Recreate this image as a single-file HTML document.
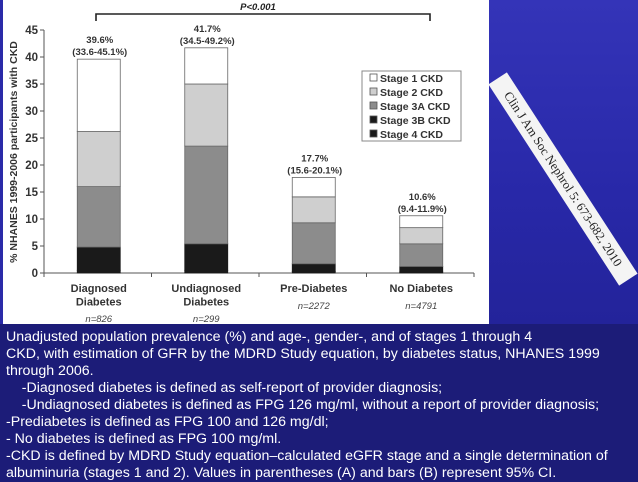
<!DOCTYPE html>
<html><head><meta charset="utf-8"><style>
html,body{margin:0;padding:0}
body{width:638px;height:478px;overflow:hidden;position:relative;background:#1c1c78;font-family:"Liberation Sans",Arial,sans-serif}
#right{position:absolute;left:489px;top:0;width:149px;height:324px;background:linear-gradient(#3434b8,#2828a8 60%,#23239a)}
#left{position:absolute;left:0;top:0;width:3px;height:324px;background:#2a2aa8}
#panel{position:absolute;left:3px;top:0;width:486px;height:324px;background:#fff}
#cap{position:absolute;left:6px;top:329px;color:#fff;font-size:14.2px;line-height:17px;white-space:pre}
#cite{position:absolute;left:443px;top:168px;width:240px;height:22px;background:#f4f4f4;transform:rotate(57deg);font-family:"Liberation Serif",serif;font-size:12.5px;line-height:22px;text-align:center;color:#222;white-space:nowrap}
</style></head><body>
<div id="left"></div>
<div id="panel"></div>
<div id="right"></div>
<div id="cite">Clin J Am Soc Nephrol 5: 673-682, 2010</div>
<svg id="chart" width="489" height="324" style="position:absolute;left:0;top:0" font-family="Liberation Sans, Arial, sans-serif"></svg>
<div id="cap">Unadjusted population prevalence (%) and age-, gender-, and of stages 1 through 4
CKD, with estimation of GFR by the MDRD Study equation, by diabetes status, NHANES 1999
through 2006.
    -Diagnosed diabetes is defined as self-report of provider diagnosis;
    -Undiagnosed diabetes is defined as FPG 126 mg/ml, without a report of provider diagnosis;
-Prediabetes is defined as FPG 100 and 126 mg/dl;
- No diabetes is defined as FPG 100 mg/ml.
-CKD is defined by MDRD Study equation–calculated eGFR stage and a single determination of
albuminuria (stages 1 and 2). Values in parentheses (A) and bars (B) represent 95% CI.</div>
<script>
const categories=[["Diagnosed","Diabetes"],["Undiagnosed","Diabetes"],["Pre-Diabetes"],["No Diabetes"]];
const nLabels=["n=826","n=299","n=2272","n=4791"];
const stage4=[0.5,0.5,0.3,0.2];
const stage3B=[4.3,4.9,1.4,1.0];
const stage3A=[11.2,18.1,7.6,4.2];
const stage2=[10.2,11.5,4.8,3.0];
const stage1=[13.4,6.7,3.6,2.2];
const totalLabels=["39.6%","41.7%","17.7%","10.6%"];
const ciLabels=["(33.6-45.1%)","(34.5-49.2%)","(15.6-20.1%)","(9.4-11.9%)"];
const yTicks=[0,5,10,15,20,25,30,35,40,45];
const seriesNames=["Stage 1 CKD","Stage 2 CKD","Stage 3A CKD","Stage 3B CKD","Stage 4 CKD"];

const svg=document.getElementById('chart');const NS="http://www.w3.org/2000/svg";
const x0=44,x1=474,yBase=273,yTop=30,yMax=45;
const y=v=>yBase-(v/yMax)*(yBase-yTop);
const band=(x1-x0)/categories.length;
const xc=i=>x0+band*(i+0.5)+1;
const bw=43;
function mk(t,a,p){const e=document.createElementNS(NS,t);for(const k in a)e.setAttribute(k,a[k]);(p||svg).appendChild(e);return e;}
function txt(s,a){const e=mk('text',a);e.textContent=s;return e;}
let e=mk('line',{x1:x0,y1:yTop,x2:x0,y2:yBase,stroke:'#555','stroke-width':1});

e=mk('line',{x1:x0,y1:yBase,x2:x1,y2:yBase,stroke:'#555','stroke-width':1});

yTicks.forEach(t=>{
  let l=mk('line',{x1:x0-4,y1:y(t),x2:x0,y2:y(t),stroke:'#555'});
  
  let s=txt(t,{x:x0-6,y:y(t)+4,'text-anchor':'end','font-size':11.5,'font-weight':'bold',fill:'#333'});
  
});
for(let i=0;i<=categories.length;i++){let l=mk('line',{x1:x0+band*i,y1:yBase,x2:x0+band*i,y2:yBase+4,stroke:'#555'});
}
let yt=txt('% NHANES 1999-2006 participants with CKD',{x:0,y:0,transform:'translate(17,152) rotate(-90)','text-anchor':'middle','font-size':10.5,'font-weight':'bold',fill:'#333'});

const series=[stage4,stage3B,stage3A,stage2,stage1];
const colors=['#1a1a1a','#1a1a1a','#8c8c8c','#cfcfcf','#ffffff'];
const strokes=['#1a1a1a','#1a1a1a','#666','#666','#666'];
const segNames=['stage4','stage3b','stage3a','stage2','stage1'];
categories.forEach((c,i)=>{
  let acc=0;
  series.forEach((s,k)=>{
    const r=mk('rect',{x:xc(i)-bw/2,y:y(acc+s[i]),width:bw,height:y(acc)-y(acc+s[i]),fill:colors[k],stroke:strokes[k],'stroke-width':0.8});
    
    acc+=s[i];
  });
  let t1=txt(totalLabels[i],{x:xc(i)+1,y:y(acc)-16,'text-anchor':'middle','font-size':9.5,'font-weight':'bold',fill:'#333'});
  
  let t2=txt(ciLabels[i],{x:xc(i)+1,y:y(acc)-4,'text-anchor':'middle','font-size':9.5,'font-weight':'bold',fill:'#333'});
  
  c.forEach((w,j)=>{let t=txt(w,{x:xc(i),y:292+j*13.5,'text-anchor':'middle','font-size':11,'font-weight':'bold',fill:'#333'});
    });
  let n=txt(nLabels[i],{x:xc(i),y:c.length>1?322:309,'text-anchor':'middle','font-size':9.5,'font-style':'italic',fill:'#444'});
  
});
let b=mk('path',{d:'M96,21 V14 H430 V21',fill:'none',stroke:'#222','stroke-width':1.6});

let p=txt('P<0.001',{x:258,y:10,'text-anchor':'middle','font-size':9.5,'font-weight':'bold','font-style':'italic',fill:'#222'});

let lg=mk('rect',{x:362,y:71,width:99,height:70,fill:'#fff',stroke:'#888','stroke-width':1});

const legColors=['#ffffff','#cfcfcf','#8c8c8c','#1a1a1a','#1a1a1a'];
seriesNames.forEach((nm,k)=>{
  let r=mk('rect',{x:370,y:74+k*14,width:7,height:7,fill:legColors[k],stroke:'#555','stroke-width':0.8});
  
  let t=txt(nm,{x:380,y:82+k*14,'font-size':10.5,'font-weight':'bold',fill:'#333'});
  
});
</script>
</body></html>
